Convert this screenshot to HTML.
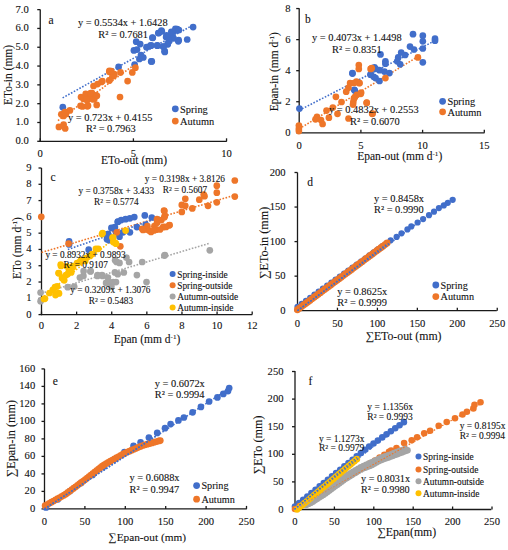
<!DOCTYPE html>
<html><head><meta charset="utf-8"><style>
html,body{margin:0;padding:0;background:#fff;width:508px;height:550px;overflow:hidden}
svg{display:block}
text{font-family:"Liberation Serif", serif;fill:#111;stroke:#111;stroke-width:0.1px}
</style></head><body>
<svg width="508" height="550" viewBox="0 0 508 550">
<rect width="508" height="550" fill="#fff"/>
<line x1="40.25" y1="9.50" x2="40.25" y2="141.90" stroke="#1a1a1a" stroke-width="1.3" />
<line x1="39.65" y1="141.30" x2="226.80" y2="141.30" stroke="#1a1a1a" stroke-width="1.3" />
<line x1="37.25" y1="141.30" x2="40.25" y2="141.30" stroke="#1a1a1a" stroke-width="1.3" />
<text x="28.7" y="144.3" font-size="10.6" text-anchor="end" >0.0</text>
<line x1="37.25" y1="122.49" x2="40.25" y2="122.49" stroke="#1a1a1a" stroke-width="1.3" />
<text x="28.7" y="125.49000000000001" font-size="10.6" text-anchor="end" >1.0</text>
<line x1="37.25" y1="103.68" x2="40.25" y2="103.68" stroke="#1a1a1a" stroke-width="1.3" />
<text x="28.7" y="106.68" font-size="10.6" text-anchor="end" >2.0</text>
<line x1="37.25" y1="84.87" x2="40.25" y2="84.87" stroke="#1a1a1a" stroke-width="1.3" />
<text x="28.7" y="87.87000000000002" font-size="10.6" text-anchor="end" >3.0</text>
<line x1="37.25" y1="66.06" x2="40.25" y2="66.06" stroke="#1a1a1a" stroke-width="1.3" />
<text x="28.7" y="69.06000000000002" font-size="10.6" text-anchor="end" >4.0</text>
<line x1="37.25" y1="47.25" x2="40.25" y2="47.25" stroke="#1a1a1a" stroke-width="1.3" />
<text x="28.7" y="50.250000000000014" font-size="10.6" text-anchor="end" >5.0</text>
<line x1="37.25" y1="28.44" x2="40.25" y2="28.44" stroke="#1a1a1a" stroke-width="1.3" />
<text x="28.7" y="31.440000000000026" font-size="10.6" text-anchor="end" >6.0</text>
<line x1="37.25" y1="9.63" x2="40.25" y2="9.63" stroke="#1a1a1a" stroke-width="1.3" />
<text x="28.7" y="12.630000000000024" font-size="10.6" text-anchor="end" >7.0</text>
<line x1="40.25" y1="141.30" x2="40.25" y2="138.30" stroke="#1a1a1a" stroke-width="1.3" />
<text x="40.25" y="157.3" font-size="10.6" text-anchor="middle" >0</text>
<line x1="133.40" y1="141.30" x2="133.40" y2="138.30" stroke="#1a1a1a" stroke-width="1.3" />
<text x="133.39999999999998" y="157.3" font-size="10.6" text-anchor="middle" >5</text>
<line x1="226.55" y1="141.30" x2="226.55" y2="138.30" stroke="#1a1a1a" stroke-width="1.3" />
<text x="226.54999999999998" y="157.3" font-size="10.6" text-anchor="middle" >10</text>
<text x="12" y="75" font-size="11.5" text-anchor="middle" transform="rotate(-90 12 75)" >ETo-in (mm)</text>
<text x="134" y="163.7" font-size="11.5" text-anchor="middle" >ETo-out (mm)</text>
<text x="48.6" y="24.2" font-size="11.5" text-anchor="start" >a</text>
<line x1="62.61" y1="97.91" x2="193.95" y2="24.52" stroke="#416ECA" stroke-width="1.6" stroke-dasharray="1.6 1.6"/>
<line x1="57.95" y1="120.56" x2="137.13" y2="62.77" stroke="#EE7629" stroke-width="1.6" stroke-dasharray="1.6 1.6"/>
<circle cx="62.80" cy="107.20" r="3.35" fill="#416ECA"/>
<circle cx="118.60" cy="66.90" r="3.35" fill="#416ECA"/>
<circle cx="134.60" cy="64.60" r="3.35" fill="#416ECA"/>
<circle cx="151.20" cy="61.40" r="3.35" fill="#416ECA"/>
<circle cx="141.00" cy="55.10" r="3.35" fill="#416ECA"/>
<circle cx="143.30" cy="57.50" r="3.35" fill="#416ECA"/>
<circle cx="139.40" cy="59.00" r="3.35" fill="#416ECA"/>
<circle cx="133.90" cy="50.40" r="3.35" fill="#416ECA"/>
<circle cx="137.00" cy="49.60" r="3.35" fill="#416ECA"/>
<circle cx="136.20" cy="41.70" r="3.35" fill="#416ECA"/>
<circle cx="140.20" cy="44.10" r="3.35" fill="#416ECA"/>
<circle cx="146.50" cy="47.20" r="3.35" fill="#416ECA"/>
<circle cx="150.40" cy="45.70" r="3.35" fill="#416ECA"/>
<circle cx="157.50" cy="45.70" r="3.35" fill="#416ECA"/>
<circle cx="164.60" cy="51.20" r="3.35" fill="#416ECA"/>
<circle cx="163.00" cy="46.50" r="3.35" fill="#416ECA"/>
<circle cx="152.80" cy="37.80" r="3.35" fill="#416ECA"/>
<circle cx="158.30" cy="33.10" r="3.35" fill="#416ECA"/>
<circle cx="161.40" cy="30.70" r="3.35" fill="#416ECA"/>
<circle cx="166.10" cy="37.00" r="3.35" fill="#416ECA"/>
<circle cx="169.30" cy="40.90" r="3.35" fill="#416ECA"/>
<circle cx="174.00" cy="31.50" r="3.35" fill="#416ECA"/>
<circle cx="177.20" cy="29.10" r="3.35" fill="#416ECA"/>
<circle cx="171.70" cy="36.20" r="3.35" fill="#416ECA"/>
<circle cx="178.70" cy="40.20" r="3.35" fill="#416ECA"/>
<circle cx="167.70" cy="44.10" r="3.35" fill="#416ECA"/>
<circle cx="193.10" cy="27.10" r="3.35" fill="#416ECA"/>
<circle cx="187.20" cy="39.50" r="3.35" fill="#416ECA"/>
<circle cx="178.30" cy="41.30" r="3.35" fill="#416ECA"/>
<circle cx="164.80" cy="51.90" r="3.35" fill="#416ECA"/>
<circle cx="157.10" cy="45.40" r="3.35" fill="#416ECA"/>
<circle cx="151.20" cy="45.40" r="3.35" fill="#416ECA"/>
<circle cx="152.40" cy="37.70" r="3.35" fill="#416ECA"/>
<circle cx="158.90" cy="33.00" r="3.35" fill="#416ECA"/>
<circle cx="161.80" cy="31.30" r="3.35" fill="#416ECA"/>
<circle cx="166.50" cy="35.40" r="3.35" fill="#416ECA"/>
<circle cx="171.30" cy="31.80" r="3.35" fill="#416ECA"/>
<circle cx="175.40" cy="28.90" r="3.35" fill="#416ECA"/>
<circle cx="178.90" cy="30.10" r="3.35" fill="#416ECA"/>
<circle cx="173.60" cy="38.30" r="3.35" fill="#416ECA"/>
<circle cx="168.90" cy="40.70" r="3.35" fill="#416ECA"/>
<circle cx="167.70" cy="44.20" r="3.35" fill="#416ECA"/>
<circle cx="163.60" cy="46.60" r="3.35" fill="#416ECA"/>
<circle cx="151.80" cy="61.40" r="3.35" fill="#416ECA"/>
<circle cx="62.80" cy="114.50" r="3.35" fill="#EE7629"/>
<circle cx="66.00" cy="112.00" r="3.35" fill="#EE7629"/>
<circle cx="69.90" cy="110.40" r="3.35" fill="#EE7629"/>
<circle cx="63.60" cy="115.90" r="3.35" fill="#EE7629"/>
<circle cx="58.90" cy="126.90" r="3.35" fill="#EE7629"/>
<circle cx="65.20" cy="128.50" r="3.35" fill="#EE7629"/>
<circle cx="63.60" cy="124.60" r="3.35" fill="#EE7629"/>
<circle cx="61.30" cy="114.30" r="3.35" fill="#EE7629"/>
<circle cx="81.00" cy="97.00" r="3.35" fill="#EE7629"/>
<circle cx="85.70" cy="93.90" r="3.35" fill="#EE7629"/>
<circle cx="92.00" cy="93.00" r="3.35" fill="#EE7629"/>
<circle cx="95.90" cy="95.40" r="3.35" fill="#EE7629"/>
<circle cx="82.50" cy="106.50" r="3.35" fill="#EE7629"/>
<circle cx="88.00" cy="105.70" r="3.35" fill="#EE7629"/>
<circle cx="96.70" cy="104.90" r="3.35" fill="#EE7629"/>
<circle cx="93.50" cy="98.60" r="3.35" fill="#EE7629"/>
<circle cx="87.20" cy="100.20" r="3.35" fill="#EE7629"/>
<circle cx="93.50" cy="86.00" r="3.35" fill="#EE7629"/>
<circle cx="101.40" cy="82.00" r="3.35" fill="#EE7629"/>
<circle cx="109.30" cy="71.80" r="3.35" fill="#EE7629"/>
<circle cx="112.40" cy="76.50" r="3.35" fill="#EE7629"/>
<circle cx="109.30" cy="80.50" r="3.35" fill="#EE7629"/>
<circle cx="120.00" cy="97.00" r="3.35" fill="#EE7629"/>
<circle cx="135.40" cy="67.70" r="3.35" fill="#EE7629"/>
<circle cx="132.30" cy="72.40" r="3.35" fill="#EE7629"/>
<circle cx="127.60" cy="81.10" r="3.35" fill="#EE7629"/>
<circle cx="120.50" cy="72.40" r="3.35" fill="#EE7629"/>
<circle cx="109.40" cy="70.90" r="3.35" fill="#EE7629"/>
<circle cx="114.20" cy="74.00" r="3.35" fill="#EE7629"/>
<circle cx="109.40" cy="80.30" r="3.35" fill="#EE7629"/>
<circle cx="102.40" cy="81.10" r="3.35" fill="#EE7629"/>
<circle cx="83.50" cy="99.00" r="3.35" fill="#EE7629"/>
<circle cx="89.40" cy="98.00" r="3.35" fill="#EE7629"/>
<circle cx="94.30" cy="99.00" r="3.35" fill="#EE7629"/>
<circle cx="80.50" cy="105.80" r="3.35" fill="#EE7629"/>
<circle cx="87.40" cy="106.30" r="3.35" fill="#EE7629"/>
<circle cx="92.70" cy="99.30" r="3.35" fill="#EE7629"/>
<circle cx="86.50" cy="99.30" r="3.35" fill="#EE7629"/>
<circle cx="90.70" cy="93.10" r="3.35" fill="#EE7629"/>
<circle cx="96.90" cy="95.80" r="3.35" fill="#EE7629"/>
<circle cx="97.50" cy="84.10" r="3.35" fill="#EE7629"/>
<circle cx="114.10" cy="75.20" r="3.35" fill="#EE7629"/>
<circle cx="111.30" cy="71.00" r="3.35" fill="#EE7629"/>
<circle cx="66.00" cy="114.00" r="3.35" fill="#EE7629"/>
<circle cx="64.80" cy="112.20" r="3.35" fill="#EE7629"/>
<text x="78" y="26.4" font-size="10.4" text-anchor="start" >y = 0.5534x + 1.6428</text>
<text x="98.3" y="38.0" font-size="10.4" text-anchor="start" >R² = 0.7681</text>
<text x="68" y="121.2" font-size="10.4" text-anchor="start" >y = 0.723x + 0.4155</text>
<text x="86" y="132.4" font-size="10.4" text-anchor="start" >R² = 0.7963</text>
<circle cx="175.30" cy="108.80" r="3.4" fill="#416ECA"/>
<text x="180.10000000000002" y="112.6" font-size="10.4" text-anchor="start" >Spring</text>
<circle cx="175.30" cy="121.10" r="3.4" fill="#EE7629"/>
<text x="180.10000000000002" y="124.89999999999999" font-size="10.4" text-anchor="start" >Autumn</text>
<line x1="299.20" y1="8.20" x2="299.20" y2="133.40" stroke="#1a1a1a" stroke-width="1.3" />
<line x1="298.60" y1="132.80" x2="484.50" y2="132.80" stroke="#1a1a1a" stroke-width="1.3" />
<line x1="296.20" y1="132.80" x2="299.20" y2="132.80" stroke="#1a1a1a" stroke-width="1.3" />
<text x="290.5" y="135.8" font-size="10.6" text-anchor="end" >0</text>
<line x1="296.20" y1="101.74" x2="299.20" y2="101.74" stroke="#1a1a1a" stroke-width="1.3" />
<text x="290.5" y="104.74000000000001" font-size="10.6" text-anchor="end" >2</text>
<line x1="296.20" y1="70.68" x2="299.20" y2="70.68" stroke="#1a1a1a" stroke-width="1.3" />
<text x="290.5" y="73.68" font-size="10.6" text-anchor="end" >4</text>
<line x1="296.20" y1="39.62" x2="299.20" y2="39.62" stroke="#1a1a1a" stroke-width="1.3" />
<text x="290.5" y="42.62000000000002" font-size="10.6" text-anchor="end" >6</text>
<line x1="296.20" y1="8.56" x2="299.20" y2="8.56" stroke="#1a1a1a" stroke-width="1.3" />
<text x="290.5" y="11.560000000000016" font-size="10.6" text-anchor="end" >8</text>
<line x1="299.20" y1="132.80" x2="299.20" y2="129.80" stroke="#1a1a1a" stroke-width="1.3" />
<text x="299.2" y="149" font-size="10.6" text-anchor="middle" >0</text>
<line x1="360.90" y1="132.80" x2="360.90" y2="129.80" stroke="#1a1a1a" stroke-width="1.3" />
<text x="360.9" y="149" font-size="10.6" text-anchor="middle" >5</text>
<line x1="422.60" y1="132.80" x2="422.60" y2="129.80" stroke="#1a1a1a" stroke-width="1.3" />
<text x="422.6" y="149" font-size="10.6" text-anchor="middle" >10</text>
<line x1="484.30" y1="132.80" x2="484.30" y2="129.80" stroke="#1a1a1a" stroke-width="1.3" />
<text x="484.3" y="149" font-size="10.6" text-anchor="middle" >15</text>
<text x="278.5" y="71.7" font-size="11.5" text-anchor="middle" transform="rotate(-90 278.5 71.7)" >Epan-in (mm d<tspan font-size="7" dy="-4">-1</tspan><tspan dy="4">)</tspan></text>
<text x="399.7" y="160" font-size="11.5" text-anchor="middle" >Epan-out (mm d<tspan font-size="7" dy="-4">-1</tspan><tspan dy="4">)</tspan></text>
<text x="305.0" y="23.4" font-size="11.5" text-anchor="start" >b</text>
<line x1="299.20" y1="110.28" x2="434.94" y2="40.71" stroke="#416ECA" stroke-width="1.6" stroke-dasharray="1.6 1.6"/>
<line x1="299.20" y1="128.84" x2="420.13" y2="55.30" stroke="#EE7629" stroke-width="1.6" stroke-dasharray="1.6 1.6"/>
<circle cx="299.40" cy="108.60" r="3.35" fill="#416ECA"/>
<circle cx="352.50" cy="73.60" r="3.35" fill="#416ECA"/>
<circle cx="354.80" cy="90.60" r="3.35" fill="#416ECA"/>
<circle cx="370.60" cy="74.40" r="3.35" fill="#416ECA"/>
<circle cx="373.70" cy="76.80" r="3.35" fill="#416ECA"/>
<circle cx="374.50" cy="67.30" r="3.35" fill="#416ECA"/>
<circle cx="413.00" cy="34.20" r="3.35" fill="#416ECA"/>
<circle cx="422.80" cy="35.70" r="3.35" fill="#416ECA"/>
<circle cx="422.80" cy="41.30" r="3.35" fill="#416ECA"/>
<circle cx="422.80" cy="48.50" r="3.35" fill="#416ECA"/>
<circle cx="435.00" cy="38.70" r="3.35" fill="#416ECA"/>
<circle cx="435.00" cy="40.70" r="3.35" fill="#416ECA"/>
<circle cx="410.00" cy="46.60" r="3.35" fill="#416ECA"/>
<circle cx="414.00" cy="49.50" r="3.35" fill="#416ECA"/>
<circle cx="401.20" cy="52.50" r="3.35" fill="#416ECA"/>
<circle cx="405.10" cy="55.00" r="3.35" fill="#416ECA"/>
<circle cx="398.20" cy="57.40" r="3.35" fill="#416ECA"/>
<circle cx="397.20" cy="61.30" r="3.35" fill="#416ECA"/>
<circle cx="400.20" cy="64.30" r="3.35" fill="#416ECA"/>
<circle cx="422.80" cy="62.30" r="3.35" fill="#416ECA"/>
<circle cx="380.50" cy="54.40" r="3.35" fill="#416ECA"/>
<circle cx="385.40" cy="61.30" r="3.35" fill="#416ECA"/>
<circle cx="385.40" cy="63.70" r="3.35" fill="#416ECA"/>
<circle cx="375.60" cy="68.80" r="3.35" fill="#416ECA"/>
<circle cx="379.50" cy="70.20" r="3.35" fill="#416ECA"/>
<circle cx="384.40" cy="71.60" r="3.35" fill="#416ECA"/>
<circle cx="389.40" cy="73.10" r="3.35" fill="#416ECA"/>
<circle cx="370.70" cy="74.70" r="3.35" fill="#416ECA"/>
<circle cx="375.60" cy="78.10" r="3.35" fill="#416ECA"/>
<circle cx="379.50" cy="81.00" r="3.35" fill="#416ECA"/>
<circle cx="352.40" cy="73.10" r="3.35" fill="#416ECA"/>
<circle cx="354.30" cy="89.90" r="3.35" fill="#416ECA"/>
<circle cx="298.90" cy="125.60" r="3.35" fill="#EE7629"/>
<circle cx="298.90" cy="128.70" r="3.35" fill="#EE7629"/>
<circle cx="298.90" cy="131.10" r="3.35" fill="#EE7629"/>
<circle cx="317.00" cy="116.90" r="3.35" fill="#EE7629"/>
<circle cx="321.00" cy="120.10" r="3.35" fill="#EE7629"/>
<circle cx="322.60" cy="124.00" r="3.35" fill="#EE7629"/>
<circle cx="315.50" cy="119.30" r="3.35" fill="#EE7629"/>
<circle cx="326.50" cy="110.60" r="3.35" fill="#EE7629"/>
<circle cx="328.90" cy="117.70" r="3.35" fill="#EE7629"/>
<circle cx="332.80" cy="107.50" r="3.35" fill="#EE7629"/>
<circle cx="337.50" cy="113.80" r="3.35" fill="#EE7629"/>
<circle cx="341.50" cy="102.00" r="3.35" fill="#EE7629"/>
<circle cx="335.90" cy="96.80" r="3.35" fill="#EE7629"/>
<circle cx="348.50" cy="118.50" r="3.35" fill="#EE7629"/>
<circle cx="346.20" cy="91.70" r="3.35" fill="#EE7629"/>
<circle cx="348.50" cy="87.80" r="3.35" fill="#EE7629"/>
<circle cx="350.10" cy="83.10" r="3.35" fill="#EE7629"/>
<circle cx="356.40" cy="81.50" r="3.35" fill="#EE7629"/>
<circle cx="359.60" cy="83.10" r="3.35" fill="#EE7629"/>
<circle cx="354.80" cy="97.20" r="3.35" fill="#EE7629"/>
<circle cx="353.30" cy="102.00" r="3.35" fill="#EE7629"/>
<circle cx="361.10" cy="92.50" r="3.35" fill="#EE7629"/>
<circle cx="358.80" cy="65.00" r="3.35" fill="#EE7629"/>
<circle cx="358.80" cy="68.90" r="3.35" fill="#EE7629"/>
<circle cx="370.60" cy="68.90" r="3.35" fill="#EE7629"/>
<circle cx="366.70" cy="102.80" r="3.35" fill="#EE7629"/>
<circle cx="372.20" cy="113.80" r="3.35" fill="#EE7629"/>
<circle cx="417.90" cy="57.40" r="3.35" fill="#EE7629"/>
<circle cx="385.40" cy="78.10" r="3.35" fill="#EE7629"/>
<circle cx="371.70" cy="68.20" r="3.35" fill="#EE7629"/>
<circle cx="358.90" cy="83.00" r="3.35" fill="#EE7629"/>
<circle cx="353.90" cy="83.00" r="3.35" fill="#EE7629"/>
<circle cx="360.80" cy="93.80" r="3.35" fill="#EE7629"/>
<circle cx="356.90" cy="94.80" r="3.35" fill="#EE7629"/>
<circle cx="353.90" cy="98.70" r="3.35" fill="#EE7629"/>
<circle cx="353.00" cy="104.60" r="3.35" fill="#EE7629"/>
<circle cx="366.70" cy="102.70" r="3.35" fill="#EE7629"/>
<circle cx="372.60" cy="113.50" r="3.35" fill="#EE7629"/>
<text x="312" y="40.8" font-size="10.4" text-anchor="start" >y = 0.4073x + 1.4498</text>
<text x="332" y="52.5" font-size="10.4" text-anchor="start" >R² = 0.8351</text>
<text x="329" y="112.5" font-size="10.4" text-anchor="start" >y = 0.4832x + 0.2553</text>
<text x="350" y="124.5" font-size="10.4" text-anchor="start" >R² = 0.6070</text>
<circle cx="442.60" cy="101.30" r="3.4" fill="#416ECA"/>
<text x="447.40000000000003" y="105.1" font-size="10.4" text-anchor="start" >Spring</text>
<circle cx="442.60" cy="111.80" r="3.4" fill="#EE7629"/>
<text x="447.40000000000003" y="115.6" font-size="10.4" text-anchor="start" >Autumn</text>
<line x1="41.50" y1="168.00" x2="41.50" y2="315.20" stroke="#1a1a1a" stroke-width="1.3" />
<line x1="40.90" y1="314.60" x2="252.30" y2="314.60" stroke="#1a1a1a" stroke-width="1.3" />
<line x1="38.50" y1="314.60" x2="41.50" y2="314.60" stroke="#1a1a1a" stroke-width="1.3" />
<text x="31.5" y="317.6" font-size="10.6" text-anchor="end" >0</text>
<line x1="38.50" y1="298.31" x2="41.50" y2="298.31" stroke="#1a1a1a" stroke-width="1.3" />
<text x="31.5" y="301.31111111111113" font-size="10.6" text-anchor="end" >1</text>
<line x1="38.50" y1="282.02" x2="41.50" y2="282.02" stroke="#1a1a1a" stroke-width="1.3" />
<text x="31.5" y="285.02222222222224" font-size="10.6" text-anchor="end" >2</text>
<line x1="38.50" y1="265.73" x2="41.50" y2="265.73" stroke="#1a1a1a" stroke-width="1.3" />
<text x="31.5" y="268.73333333333335" font-size="10.6" text-anchor="end" >3</text>
<line x1="38.50" y1="249.44" x2="41.50" y2="249.44" stroke="#1a1a1a" stroke-width="1.3" />
<text x="31.5" y="252.44444444444446" font-size="10.6" text-anchor="end" >4</text>
<line x1="38.50" y1="233.16" x2="41.50" y2="233.16" stroke="#1a1a1a" stroke-width="1.3" />
<text x="31.5" y="236.15555555555557" font-size="10.6" text-anchor="end" >5</text>
<line x1="38.50" y1="216.87" x2="41.50" y2="216.87" stroke="#1a1a1a" stroke-width="1.3" />
<text x="31.5" y="219.86666666666667" font-size="10.6" text-anchor="end" >6</text>
<line x1="38.50" y1="200.58" x2="41.50" y2="200.58" stroke="#1a1a1a" stroke-width="1.3" />
<text x="31.5" y="203.57777777777778" font-size="10.6" text-anchor="end" >7</text>
<line x1="38.50" y1="184.29" x2="41.50" y2="184.29" stroke="#1a1a1a" stroke-width="1.3" />
<text x="31.5" y="187.2888888888889" font-size="10.6" text-anchor="end" >8</text>
<line x1="38.50" y1="168.00" x2="41.50" y2="168.00" stroke="#1a1a1a" stroke-width="1.3" />
<text x="31.5" y="171.0" font-size="10.6" text-anchor="end" >9</text>
<line x1="41.50" y1="314.60" x2="41.50" y2="311.60" stroke="#1a1a1a" stroke-width="1.3" />
<text x="41.5" y="329" font-size="10.6" text-anchor="middle" >0</text>
<line x1="76.62" y1="314.60" x2="76.62" y2="311.60" stroke="#1a1a1a" stroke-width="1.3" />
<text x="76.61666666666667" y="329" font-size="10.6" text-anchor="middle" >2</text>
<line x1="111.73" y1="314.60" x2="111.73" y2="311.60" stroke="#1a1a1a" stroke-width="1.3" />
<text x="111.73333333333333" y="329" font-size="10.6" text-anchor="middle" >4</text>
<line x1="146.85" y1="314.60" x2="146.85" y2="311.60" stroke="#1a1a1a" stroke-width="1.3" />
<text x="146.85" y="329" font-size="10.6" text-anchor="middle" >6</text>
<line x1="181.97" y1="314.60" x2="181.97" y2="311.60" stroke="#1a1a1a" stroke-width="1.3" />
<text x="181.96666666666667" y="329" font-size="10.6" text-anchor="middle" >8</text>
<line x1="217.08" y1="314.60" x2="217.08" y2="311.60" stroke="#1a1a1a" stroke-width="1.3" />
<text x="217.08333333333334" y="329" font-size="10.6" text-anchor="middle" >10</text>
<line x1="252.20" y1="314.60" x2="252.20" y2="311.60" stroke="#1a1a1a" stroke-width="1.3" />
<text x="252.2" y="329" font-size="10.6" text-anchor="middle" >12</text>
<text x="21" y="248.1" font-size="11.5" text-anchor="middle" transform="rotate(-90 21 248.1)" >ETo (mm d<tspan font-size="7" dy="-4">-1</tspan><tspan dy="4">)</tspan></text>
<text x="147" y="343.4" font-size="11.5" text-anchor="middle" >Epan (mm d<tspan font-size="7" dy="-4">-1</tspan><tspan dy="4">)</tspan></text>
<text x="50.5" y="181.3" font-size="11.5" text-anchor="start" >c</text>
<line x1="41.50" y1="252.50" x2="234.64" y2="195.20" stroke="#EE7629" stroke-width="1.6" stroke-dasharray="1.6 1.6"/>
<line x1="67.84" y1="249.50" x2="160.90" y2="217.05" stroke="#416ECA" stroke-width="1.6" stroke-dasharray="1.6 1.6"/>
<line x1="41.50" y1="293.30" x2="210.06" y2="243.12" stroke="#A5A5A5" stroke-width="1.6" stroke-dasharray="1.6 1.6"/>
<line x1="41.50" y1="298.49" x2="117.00" y2="235.92" stroke="#FFC000" stroke-width="1.6" stroke-dasharray="1.6 1.6"/>
<circle cx="69.10" cy="241.30" r="3.35" fill="#416ECA"/>
<circle cx="69.10" cy="244.50" r="3.35" fill="#416ECA"/>
<circle cx="88.70" cy="249.70" r="3.35" fill="#416ECA"/>
<circle cx="111.40" cy="227.90" r="3.35" fill="#416ECA"/>
<circle cx="114.90" cy="227.00" r="3.35" fill="#416ECA"/>
<circle cx="107.90" cy="234.00" r="3.35" fill="#416ECA"/>
<circle cx="107.00" cy="239.20" r="3.35" fill="#416ECA"/>
<circle cx="118.00" cy="221.70" r="3.35" fill="#416ECA"/>
<circle cx="117.70" cy="221.80" r="3.35" fill="#416ECA"/>
<circle cx="121.20" cy="220.10" r="3.35" fill="#416ECA"/>
<circle cx="125.60" cy="219.20" r="3.35" fill="#416ECA"/>
<circle cx="129.90" cy="218.30" r="3.35" fill="#416ECA"/>
<circle cx="134.30" cy="217.10" r="3.35" fill="#416ECA"/>
<circle cx="144.80" cy="215.40" r="3.35" fill="#416ECA"/>
<circle cx="151.80" cy="217.50" r="3.35" fill="#416ECA"/>
<circle cx="112.50" cy="228.00" r="3.35" fill="#416ECA"/>
<circle cx="116.00" cy="232.30" r="3.35" fill="#416ECA"/>
<circle cx="123.00" cy="232.30" r="3.35" fill="#416ECA"/>
<circle cx="129.90" cy="232.30" r="3.35" fill="#416ECA"/>
<circle cx="136.90" cy="227.10" r="3.35" fill="#416ECA"/>
<circle cx="145.70" cy="224.50" r="3.35" fill="#416ECA"/>
<circle cx="108.10" cy="234.10" r="3.35" fill="#416ECA"/>
<circle cx="109.00" cy="240.20" r="3.35" fill="#416ECA"/>
<circle cx="119.50" cy="236.70" r="3.35" fill="#416ECA"/>
<circle cx="106.40" cy="234.90" r="3.35" fill="#416ECA"/>
<circle cx="41.30" cy="216.80" r="3.35" fill="#EE7629"/>
<circle cx="68.60" cy="243.60" r="3.35" fill="#EE7629"/>
<circle cx="116.80" cy="232.30" r="3.35" fill="#EE7629"/>
<circle cx="120.30" cy="246.30" r="3.35" fill="#EE7629"/>
<circle cx="142.20" cy="228.80" r="3.35" fill="#EE7629"/>
<circle cx="147.40" cy="226.20" r="3.35" fill="#EE7629"/>
<circle cx="149.10" cy="230.60" r="3.35" fill="#EE7629"/>
<circle cx="154.40" cy="226.20" r="3.35" fill="#EE7629"/>
<circle cx="156.10" cy="229.70" r="3.35" fill="#EE7629"/>
<circle cx="157.00" cy="219.20" r="3.35" fill="#EE7629"/>
<circle cx="157.00" cy="222.70" r="3.35" fill="#EE7629"/>
<circle cx="164.00" cy="210.50" r="3.35" fill="#EE7629"/>
<circle cx="164.90" cy="215.70" r="3.35" fill="#EE7629"/>
<circle cx="163.10" cy="227.10" r="3.35" fill="#EE7629"/>
<circle cx="169.20" cy="225.30" r="3.35" fill="#EE7629"/>
<circle cx="161.40" cy="220.10" r="3.35" fill="#EE7629"/>
<circle cx="234.80" cy="180.50" r="3.35" fill="#EE7629"/>
<circle cx="234.80" cy="196.60" r="3.35" fill="#EE7629"/>
<circle cx="216.80" cy="185.70" r="3.35" fill="#EE7629"/>
<circle cx="216.80" cy="192.70" r="3.35" fill="#EE7629"/>
<circle cx="216.80" cy="202.30" r="3.35" fill="#EE7629"/>
<circle cx="208.00" cy="205.80" r="3.35" fill="#EE7629"/>
<circle cx="203.70" cy="194.50" r="3.35" fill="#EE7629"/>
<circle cx="204.50" cy="196.20" r="3.35" fill="#EE7629"/>
<circle cx="199.30" cy="199.70" r="3.35" fill="#EE7629"/>
<circle cx="185.30" cy="198.80" r="3.35" fill="#EE7629"/>
<circle cx="181.80" cy="204.90" r="3.35" fill="#EE7629"/>
<circle cx="185.30" cy="205.80" r="3.35" fill="#EE7629"/>
<circle cx="192.30" cy="208.40" r="3.35" fill="#EE7629"/>
<circle cx="181.80" cy="211.90" r="3.35" fill="#EE7629"/>
<circle cx="164.40" cy="211.00" r="3.35" fill="#EE7629"/>
<circle cx="164.40" cy="217.20" r="3.35" fill="#EE7629"/>
<circle cx="164.40" cy="226.80" r="3.35" fill="#EE7629"/>
<circle cx="169.60" cy="225.00" r="3.35" fill="#EE7629"/>
<circle cx="146.00" cy="229.50" r="3.35" fill="#EE7629"/>
<circle cx="151.00" cy="232.00" r="3.35" fill="#EE7629"/>
<circle cx="154.00" cy="230.50" r="3.35" fill="#EE7629"/>
<circle cx="160.00" cy="229.50" r="3.35" fill="#EE7629"/>
<circle cx="166.00" cy="227.00" r="3.35" fill="#EE7629"/>
<circle cx="143.00" cy="230.00" r="3.35" fill="#EE7629"/>
<circle cx="40.60" cy="292.50" r="3.35" fill="#A5A5A5"/>
<circle cx="40.60" cy="301.20" r="3.35" fill="#A5A5A5"/>
<circle cx="67.70" cy="287.20" r="3.35" fill="#A5A5A5"/>
<circle cx="79.90" cy="277.60" r="3.35" fill="#A5A5A5"/>
<circle cx="83.40" cy="275.90" r="3.35" fill="#A5A5A5"/>
<circle cx="90.40" cy="271.50" r="3.35" fill="#A5A5A5"/>
<circle cx="97.40" cy="275.90" r="3.35" fill="#A5A5A5"/>
<circle cx="102.60" cy="275.90" r="3.35" fill="#A5A5A5"/>
<circle cx="107.90" cy="277.60" r="3.35" fill="#A5A5A5"/>
<circle cx="106.10" cy="282.90" r="3.35" fill="#A5A5A5"/>
<circle cx="113.10" cy="282.00" r="3.35" fill="#A5A5A5"/>
<circle cx="111.40" cy="286.40" r="3.35" fill="#A5A5A5"/>
<circle cx="114.90" cy="272.40" r="3.35" fill="#A5A5A5"/>
<circle cx="116.60" cy="261.90" r="3.35" fill="#A5A5A5"/>
<circle cx="164.90" cy="255.00" r="3.35" fill="#A5A5A5"/>
<circle cx="142.20" cy="262.00" r="3.35" fill="#A5A5A5"/>
<circle cx="129.10" cy="262.00" r="3.35" fill="#A5A5A5"/>
<circle cx="119.50" cy="262.90" r="3.35" fill="#A5A5A5"/>
<circle cx="115.10" cy="260.30" r="3.35" fill="#A5A5A5"/>
<circle cx="123.80" cy="272.50" r="3.35" fill="#A5A5A5"/>
<circle cx="136.90" cy="275.10" r="3.35" fill="#A5A5A5"/>
<circle cx="117.70" cy="274.20" r="3.35" fill="#A5A5A5"/>
<circle cx="102.00" cy="275.10" r="3.35" fill="#A5A5A5"/>
<circle cx="97.60" cy="275.10" r="3.35" fill="#A5A5A5"/>
<circle cx="109.00" cy="282.10" r="3.35" fill="#A5A5A5"/>
<circle cx="116.00" cy="282.10" r="3.35" fill="#A5A5A5"/>
<circle cx="146.50" cy="282.10" r="3.35" fill="#A5A5A5"/>
<circle cx="126.40" cy="257.60" r="3.35" fill="#A5A5A5"/>
<circle cx="209.80" cy="250.30" r="3.35" fill="#A5A5A5"/>
<circle cx="164.40" cy="255.60" r="3.35" fill="#A5A5A5"/>
<circle cx="83.60" cy="271.10" r="3.35" fill="#A5A5A5"/>
<circle cx="90.70" cy="271.10" r="3.35" fill="#A5A5A5"/>
<circle cx="74.20" cy="286.50" r="3.35" fill="#A5A5A5"/>
<circle cx="45.00" cy="298.60" r="3.35" fill="#FFC000"/>
<circle cx="52.80" cy="289.90" r="3.35" fill="#FFC000"/>
<circle cx="57.20" cy="286.40" r="3.35" fill="#FFC000"/>
<circle cx="59.00" cy="293.40" r="3.35" fill="#FFC000"/>
<circle cx="55.50" cy="295.10" r="3.35" fill="#FFC000"/>
<circle cx="59.00" cy="273.30" r="3.35" fill="#FFC000"/>
<circle cx="62.50" cy="277.60" r="3.35" fill="#FFC000"/>
<circle cx="64.20" cy="280.30" r="3.35" fill="#FFC000"/>
<circle cx="67.70" cy="274.10" r="3.35" fill="#FFC000"/>
<circle cx="71.20" cy="272.40" r="3.35" fill="#FFC000"/>
<circle cx="72.90" cy="267.20" r="3.35" fill="#FFC000"/>
<circle cx="60.70" cy="264.50" r="3.35" fill="#FFC000"/>
<circle cx="66.80" cy="266.30" r="3.35" fill="#FFC000"/>
<circle cx="79.90" cy="261.90" r="3.35" fill="#FFC000"/>
<circle cx="85.20" cy="261.00" r="3.35" fill="#FFC000"/>
<circle cx="92.10" cy="254.10" r="3.35" fill="#FFC000"/>
<circle cx="98.30" cy="248.80" r="3.35" fill="#FFC000"/>
<circle cx="102.60" cy="233.10" r="3.35" fill="#FFC000"/>
<circle cx="113.10" cy="237.50" r="3.35" fill="#FFC000"/>
<circle cx="114.90" cy="242.70" r="3.35" fill="#FFC000"/>
<circle cx="102.00" cy="234.10" r="3.35" fill="#FFC000"/>
<circle cx="112.50" cy="237.60" r="3.35" fill="#FFC000"/>
<circle cx="113.30" cy="241.90" r="3.35" fill="#FFC000"/>
<circle cx="116.00" cy="243.70" r="3.35" fill="#FFC000"/>
<circle cx="125.60" cy="230.60" r="3.35" fill="#FFC000"/>
<circle cx="95.90" cy="248.90" r="3.35" fill="#FFC000"/>
<circle cx="61.00" cy="266.00" r="3.35" fill="#FFC000"/>
<circle cx="58.50" cy="273.00" r="3.35" fill="#FFC000"/>
<circle cx="62.00" cy="278.00" r="3.35" fill="#FFC000"/>
<circle cx="66.00" cy="275.00" r="3.35" fill="#FFC000"/>
<circle cx="69.00" cy="271.00" r="3.35" fill="#FFC000"/>
<circle cx="73.00" cy="266.00" r="3.35" fill="#FFC000"/>
<circle cx="77.00" cy="263.00" r="3.35" fill="#FFC000"/>
<circle cx="81.00" cy="260.00" r="3.35" fill="#FFC000"/>
<circle cx="86.00" cy="258.00" r="3.35" fill="#FFC000"/>
<circle cx="90.00" cy="256.00" r="3.35" fill="#FFC000"/>
<circle cx="55.00" cy="287.00" r="3.35" fill="#FFC000"/>
<circle cx="49.50" cy="293.00" r="3.35" fill="#FFC000"/>
<circle cx="44.00" cy="299.00" r="3.35" fill="#FFC000"/>
<circle cx="58.00" cy="293.00" r="3.35" fill="#FFC000"/>
<text x="78.5" y="193.8" font-size="9.3" text-anchor="start" >y = 0.3758x + 3.433</text>
<text x="94.1" y="204.6" font-size="9.3" text-anchor="start" >R² = 0.5774</text>
<text x="144.8" y="181.9" font-size="9.3" text-anchor="start" >y = 0.3198x + 3.8126</text>
<text x="162.7" y="192.7" font-size="9.3" text-anchor="start" >R² = 0.5607</text>
<text x="45.4" y="257.6" font-size="9.3" text-anchor="start" >y = 0.8932x + 0.9893</text>
<text x="63.4" y="268.4" font-size="9.3" text-anchor="start" >R² = 0.9107</text>
<text x="70.3" y="293.1" font-size="9.3" text-anchor="start" >y = 0.3209x + 1.3076</text>
<text x="88.7" y="303.5" font-size="9.3" text-anchor="start" >R² = 0.5483</text>
<circle cx="172.60" cy="274.00" r="3.0" fill="#416ECA"/>
<text x="177.2" y="277.8" font-size="9.4" text-anchor="start" >Spring-inside</text>
<circle cx="172.60" cy="285.20" r="3.0" fill="#EE7629"/>
<text x="177.2" y="289.0" font-size="9.4" text-anchor="start" >Spring-outside</text>
<circle cx="172.60" cy="296.40" r="3.0" fill="#A5A5A5"/>
<text x="177.2" y="300.2" font-size="9.4" text-anchor="start" >Autumn-outside</text>
<circle cx="172.60" cy="307.60" r="3.0" fill="#FFC000"/>
<text x="177.2" y="311.40000000000003" font-size="9.4" text-anchor="start" >Autumn-inside</text>
<line x1="297.50" y1="172.50" x2="297.50" y2="311.30" stroke="#1a1a1a" stroke-width="1.3" />
<line x1="296.90" y1="310.70" x2="496.80" y2="310.70" stroke="#1a1a1a" stroke-width="1.3" />
<line x1="294.50" y1="310.70" x2="297.50" y2="310.70" stroke="#1a1a1a" stroke-width="1.3" />
<text x="285.6" y="313.7" font-size="10.6" text-anchor="end" >0</text>
<line x1="294.50" y1="276.15" x2="297.50" y2="276.15" stroke="#1a1a1a" stroke-width="1.3" />
<text x="285.6" y="279.15" font-size="10.6" text-anchor="end" >50</text>
<line x1="294.50" y1="241.60" x2="297.50" y2="241.60" stroke="#1a1a1a" stroke-width="1.3" />
<text x="285.6" y="244.6" font-size="10.6" text-anchor="end" >100</text>
<line x1="294.50" y1="207.05" x2="297.50" y2="207.05" stroke="#1a1a1a" stroke-width="1.3" />
<text x="285.6" y="210.05" font-size="10.6" text-anchor="end" >150</text>
<line x1="294.50" y1="172.50" x2="297.50" y2="172.50" stroke="#1a1a1a" stroke-width="1.3" />
<text x="285.6" y="175.5" font-size="10.6" text-anchor="end" >200</text>
<line x1="297.50" y1="310.70" x2="297.50" y2="307.70" stroke="#1a1a1a" stroke-width="1.3" />
<text x="297.5" y="326.5" font-size="10.6" text-anchor="middle" >0</text>
<line x1="337.45" y1="310.70" x2="337.45" y2="307.70" stroke="#1a1a1a" stroke-width="1.3" />
<text x="337.45" y="326.5" font-size="10.6" text-anchor="middle" >50</text>
<line x1="377.40" y1="310.70" x2="377.40" y2="307.70" stroke="#1a1a1a" stroke-width="1.3" />
<text x="377.4" y="326.5" font-size="10.6" text-anchor="middle" >100</text>
<line x1="417.35" y1="310.70" x2="417.35" y2="307.70" stroke="#1a1a1a" stroke-width="1.3" />
<text x="417.35" y="326.5" font-size="10.6" text-anchor="middle" >150</text>
<line x1="457.30" y1="310.70" x2="457.30" y2="307.70" stroke="#1a1a1a" stroke-width="1.3" />
<text x="457.3" y="326.5" font-size="10.6" text-anchor="middle" >200</text>
<line x1="497.25" y1="310.70" x2="497.25" y2="307.70" stroke="#1a1a1a" stroke-width="1.3" />
<text x="497.25" y="326.5" font-size="10.6" text-anchor="middle" >250</text>
<text x="268" y="243" font-size="12.2" text-anchor="middle" transform="rotate(-90 268 243)" >∑ETo-in (mm)</text>
<text x="403.5" y="340" font-size="11.8" text-anchor="middle" >∑ETo-out (mm)</text>
<text x="307.2" y="185.6" font-size="11.5" text-anchor="start" >d</text>
<circle cx="297.50" cy="306.80" r="3.1" fill="#416ECA"/>
<circle cx="301.73" cy="303.78" r="3.1" fill="#416ECA"/>
<circle cx="305.97" cy="300.76" r="3.1" fill="#416ECA"/>
<circle cx="310.20" cy="297.74" r="3.1" fill="#416ECA"/>
<circle cx="314.43" cy="294.72" r="3.1" fill="#416ECA"/>
<circle cx="318.67" cy="291.70" r="3.1" fill="#416ECA"/>
<circle cx="322.90" cy="288.68" r="3.1" fill="#416ECA"/>
<circle cx="327.13" cy="285.66" r="3.1" fill="#416ECA"/>
<circle cx="331.37" cy="282.64" r="3.1" fill="#416ECA"/>
<circle cx="335.60" cy="279.62" r="3.1" fill="#416ECA"/>
<circle cx="339.83" cy="276.60" r="3.1" fill="#416ECA"/>
<circle cx="344.07" cy="273.58" r="3.1" fill="#416ECA"/>
<circle cx="348.30" cy="270.56" r="3.1" fill="#416ECA"/>
<circle cx="352.53" cy="267.54" r="3.1" fill="#416ECA"/>
<circle cx="356.77" cy="264.52" r="3.1" fill="#416ECA"/>
<circle cx="361.00" cy="261.50" r="3.1" fill="#416ECA"/>
<circle cx="365.23" cy="258.48" r="3.1" fill="#416ECA"/>
<circle cx="369.46" cy="255.46" r="3.1" fill="#416ECA"/>
<circle cx="373.70" cy="252.44" r="3.1" fill="#416ECA"/>
<circle cx="377.93" cy="249.42" r="3.1" fill="#416ECA"/>
<circle cx="382.16" cy="246.40" r="3.1" fill="#416ECA"/>
<circle cx="386.40" cy="243.38" r="3.1" fill="#416ECA"/>
<circle cx="390.63" cy="240.36" r="3.1" fill="#416ECA"/>
<circle cx="396.60" cy="236.90" r="3.1" fill="#416ECA"/>
<circle cx="401.50" cy="233.30" r="3.1" fill="#416ECA"/>
<circle cx="407.40" cy="229.40" r="3.1" fill="#416ECA"/>
<circle cx="411.30" cy="226.40" r="3.1" fill="#416ECA"/>
<circle cx="417.60" cy="222.50" r="3.1" fill="#416ECA"/>
<circle cx="423.10" cy="219.10" r="3.1" fill="#416ECA"/>
<circle cx="429.00" cy="215.20" r="3.1" fill="#416ECA"/>
<circle cx="434.00" cy="211.70" r="3.1" fill="#416ECA"/>
<circle cx="438.90" cy="208.10" r="3.1" fill="#416ECA"/>
<circle cx="443.80" cy="205.40" r="3.1" fill="#416ECA"/>
<circle cx="447.80" cy="202.80" r="3.1" fill="#416ECA"/>
<circle cx="452.70" cy="199.80" r="3.1" fill="#416ECA"/>
<circle cx="297.40" cy="309.70" r="3.45" fill="#EE7629"/>
<circle cx="299.49" cy="308.15" r="3.45" fill="#EE7629"/>
<circle cx="301.57" cy="306.60" r="3.45" fill="#EE7629"/>
<circle cx="303.66" cy="305.05" r="3.45" fill="#EE7629"/>
<circle cx="305.75" cy="303.50" r="3.45" fill="#EE7629"/>
<circle cx="307.84" cy="301.95" r="3.45" fill="#EE7629"/>
<circle cx="309.92" cy="300.40" r="3.45" fill="#EE7629"/>
<circle cx="312.01" cy="298.85" r="3.45" fill="#EE7629"/>
<circle cx="314.10" cy="297.30" r="3.45" fill="#EE7629"/>
<circle cx="316.19" cy="295.75" r="3.45" fill="#EE7629"/>
<circle cx="318.27" cy="294.20" r="3.45" fill="#EE7629"/>
<circle cx="320.36" cy="292.65" r="3.45" fill="#EE7629"/>
<circle cx="322.45" cy="291.10" r="3.45" fill="#EE7629"/>
<circle cx="324.54" cy="289.55" r="3.45" fill="#EE7629"/>
<circle cx="326.62" cy="288.00" r="3.45" fill="#EE7629"/>
<circle cx="328.71" cy="286.45" r="3.45" fill="#EE7629"/>
<circle cx="330.80" cy="284.90" r="3.45" fill="#EE7629"/>
<circle cx="332.89" cy="283.35" r="3.45" fill="#EE7629"/>
<circle cx="334.97" cy="281.80" r="3.45" fill="#EE7629"/>
<circle cx="337.06" cy="280.25" r="3.45" fill="#EE7629"/>
<circle cx="339.15" cy="278.70" r="3.45" fill="#EE7629"/>
<circle cx="341.24" cy="277.15" r="3.45" fill="#EE7629"/>
<circle cx="343.32" cy="275.60" r="3.45" fill="#EE7629"/>
<circle cx="345.41" cy="274.05" r="3.45" fill="#EE7629"/>
<circle cx="347.50" cy="272.50" r="3.45" fill="#EE7629"/>
<circle cx="349.59" cy="270.95" r="3.45" fill="#EE7629"/>
<circle cx="351.67" cy="269.40" r="3.45" fill="#EE7629"/>
<circle cx="353.76" cy="267.85" r="3.45" fill="#EE7629"/>
<circle cx="355.85" cy="266.30" r="3.45" fill="#EE7629"/>
<circle cx="357.94" cy="264.75" r="3.45" fill="#EE7629"/>
<circle cx="360.02" cy="263.20" r="3.45" fill="#EE7629"/>
<circle cx="362.11" cy="261.65" r="3.45" fill="#EE7629"/>
<circle cx="364.20" cy="260.10" r="3.45" fill="#EE7629"/>
<circle cx="366.29" cy="258.55" r="3.45" fill="#EE7629"/>
<circle cx="368.37" cy="257.00" r="3.45" fill="#EE7629"/>
<circle cx="370.46" cy="255.45" r="3.45" fill="#EE7629"/>
<circle cx="372.55" cy="253.90" r="3.45" fill="#EE7629"/>
<circle cx="374.64" cy="252.35" r="3.45" fill="#EE7629"/>
<circle cx="376.72" cy="250.80" r="3.45" fill="#EE7629"/>
<circle cx="378.81" cy="249.25" r="3.45" fill="#EE7629"/>
<circle cx="380.90" cy="247.70" r="3.45" fill="#EE7629"/>
<circle cx="382.99" cy="246.15" r="3.45" fill="#EE7629"/>
<circle cx="385.07" cy="244.60" r="3.45" fill="#EE7629"/>
<circle cx="387.16" cy="243.05" r="3.45" fill="#EE7629"/>
<line x1="297.50" y1="310.70" x2="452.70" y2="197.50" stroke="#416ECA" stroke-width="1.6" stroke-dasharray="1.6 1.6"/>
<line x1="297.50" y1="310.70" x2="387.50" y2="243.50" stroke="#416ECA" stroke-width="1.3" stroke-dasharray="1.6 1.6"/>
<text x="374" y="201.5" font-size="10.4" text-anchor="start" >y = 0.8458x</text>
<text x="374" y="212.8" font-size="10.4" text-anchor="start" >R² = 0.9990</text>
<text x="337.3" y="295" font-size="10.4" text-anchor="start" >y = 0.8625x</text>
<text x="337.3" y="305.8" font-size="10.4" text-anchor="start" >R² = 0.9999</text>
<circle cx="435.80" cy="285.00" r="3.4" fill="#416ECA"/>
<text x="440.6" y="288.8" font-size="10.2" text-anchor="start" >Spring</text>
<circle cx="435.80" cy="296.60" r="3.4" fill="#EE7629"/>
<text x="440.6" y="300.40000000000003" font-size="10.2" text-anchor="start" >Autumn</text>
<line x1="44.50" y1="368.80" x2="44.50" y2="509.50" stroke="#1a1a1a" stroke-width="1.3" />
<line x1="43.90" y1="508.90" x2="246.80" y2="508.90" stroke="#1a1a1a" stroke-width="1.3" />
<line x1="41.50" y1="508.90" x2="44.50" y2="508.90" stroke="#1a1a1a" stroke-width="1.3" />
<text x="35.2" y="511.9" font-size="10.6" text-anchor="end" >0</text>
<line x1="41.50" y1="491.40" x2="44.50" y2="491.40" stroke="#1a1a1a" stroke-width="1.3" />
<text x="35.2" y="494.4" font-size="10.6" text-anchor="end" >20</text>
<line x1="41.50" y1="473.90" x2="44.50" y2="473.90" stroke="#1a1a1a" stroke-width="1.3" />
<text x="35.2" y="476.9" font-size="10.6" text-anchor="end" >40</text>
<line x1="41.50" y1="456.40" x2="44.50" y2="456.40" stroke="#1a1a1a" stroke-width="1.3" />
<text x="35.2" y="459.4" font-size="10.6" text-anchor="end" >60</text>
<line x1="41.50" y1="438.90" x2="44.50" y2="438.90" stroke="#1a1a1a" stroke-width="1.3" />
<text x="35.2" y="441.9" font-size="10.6" text-anchor="end" >80</text>
<line x1="41.50" y1="421.40" x2="44.50" y2="421.40" stroke="#1a1a1a" stroke-width="1.3" />
<text x="35.2" y="424.4" font-size="10.6" text-anchor="end" >100</text>
<line x1="41.50" y1="403.90" x2="44.50" y2="403.90" stroke="#1a1a1a" stroke-width="1.3" />
<text x="35.2" y="406.9" font-size="10.6" text-anchor="end" >120</text>
<line x1="41.50" y1="386.40" x2="44.50" y2="386.40" stroke="#1a1a1a" stroke-width="1.3" />
<text x="35.2" y="389.4" font-size="10.6" text-anchor="end" >140</text>
<line x1="41.50" y1="368.90" x2="44.50" y2="368.90" stroke="#1a1a1a" stroke-width="1.3" />
<text x="35.2" y="371.9" font-size="10.6" text-anchor="end" >160</text>
<line x1="44.50" y1="508.90" x2="44.50" y2="505.90" stroke="#1a1a1a" stroke-width="1.3" />
<text x="44.5" y="525" font-size="10.6" text-anchor="middle" >0</text>
<line x1="84.90" y1="508.90" x2="84.90" y2="505.90" stroke="#1a1a1a" stroke-width="1.3" />
<text x="84.9" y="525" font-size="10.6" text-anchor="middle" >50</text>
<line x1="125.30" y1="508.90" x2="125.30" y2="505.90" stroke="#1a1a1a" stroke-width="1.3" />
<text x="125.3" y="525" font-size="10.6" text-anchor="middle" >100</text>
<line x1="165.70" y1="508.90" x2="165.70" y2="505.90" stroke="#1a1a1a" stroke-width="1.3" />
<text x="165.7" y="525" font-size="10.6" text-anchor="middle" >150</text>
<line x1="206.10" y1="508.90" x2="206.10" y2="505.90" stroke="#1a1a1a" stroke-width="1.3" />
<text x="206.1" y="525" font-size="10.6" text-anchor="middle" >200</text>
<line x1="246.50" y1="508.90" x2="246.50" y2="505.90" stroke="#1a1a1a" stroke-width="1.3" />
<text x="246.5" y="525" font-size="10.6" text-anchor="middle" >250</text>
<text x="15.5" y="438.7" font-size="12.2" text-anchor="middle" transform="rotate(-90 15.5 438.7)" >∑Epan-in (mm)</text>
<text x="147.3" y="541" font-size="11.3" text-anchor="middle" >∑Epan-out (mm)</text>
<text x="52.8" y="384.8" font-size="11.5" text-anchor="start" >e</text>
<circle cx="46.00" cy="507.50" r="3.35" fill="#416ECA"/>
<circle cx="57.90" cy="499.30" r="3.35" fill="#416ECA"/>
<circle cx="70.00" cy="491.00" r="3.35" fill="#416ECA"/>
<circle cx="81.00" cy="483.00" r="3.35" fill="#416ECA"/>
<circle cx="92.50" cy="475.00" r="3.35" fill="#416ECA"/>
<circle cx="103.00" cy="467.00" r="3.35" fill="#416ECA"/>
<circle cx="114.00" cy="459.50" r="3.35" fill="#416ECA"/>
<circle cx="124.40" cy="452.00" r="3.35" fill="#416ECA"/>
<circle cx="133.50" cy="445.90" r="3.35" fill="#416ECA"/>
<circle cx="140.60" cy="442.30" r="3.35" fill="#416ECA"/>
<circle cx="148.90" cy="437.60" r="3.35" fill="#416ECA"/>
<circle cx="157.20" cy="432.90" r="3.35" fill="#416ECA"/>
<circle cx="165.00" cy="428.20" r="3.35" fill="#416ECA"/>
<circle cx="170.60" cy="424.10" r="3.35" fill="#416ECA"/>
<circle cx="178.40" cy="420.40" r="3.35" fill="#416ECA"/>
<circle cx="183.90" cy="417.50" r="3.35" fill="#416ECA"/>
<circle cx="192.60" cy="412.30" r="3.35" fill="#416ECA"/>
<circle cx="200.90" cy="406.90" r="3.35" fill="#416ECA"/>
<circle cx="209.10" cy="401.50" r="3.35" fill="#416ECA"/>
<circle cx="217.40" cy="397.40" r="3.35" fill="#416ECA"/>
<circle cx="223.30" cy="393.90" r="3.35" fill="#416ECA"/>
<circle cx="228.00" cy="391.10" r="3.35" fill="#416ECA"/>
<circle cx="229.20" cy="388.00" r="3.35" fill="#416ECA"/>
<circle cx="45.10" cy="505.70" r="3.35" fill="#EE7629"/>
<circle cx="47.19" cy="504.53" r="3.35" fill="#EE7629"/>
<circle cx="49.29" cy="503.35" r="3.35" fill="#EE7629"/>
<circle cx="51.38" cy="502.18" r="3.35" fill="#EE7629"/>
<circle cx="53.47" cy="501.00" r="3.35" fill="#EE7629"/>
<circle cx="55.57" cy="499.83" r="3.35" fill="#EE7629"/>
<circle cx="57.66" cy="498.65" r="3.35" fill="#EE7629"/>
<circle cx="59.75" cy="497.48" r="3.35" fill="#EE7629"/>
<circle cx="61.85" cy="496.31" r="3.35" fill="#EE7629"/>
<circle cx="63.94" cy="495.13" r="3.35" fill="#EE7629"/>
<circle cx="66.00" cy="493.90" r="3.35" fill="#EE7629"/>
<circle cx="67.92" cy="492.47" r="3.35" fill="#EE7629"/>
<circle cx="69.84" cy="491.03" r="3.35" fill="#EE7629"/>
<circle cx="71.77" cy="489.60" r="3.35" fill="#EE7629"/>
<circle cx="73.69" cy="488.16" r="3.35" fill="#EE7629"/>
<circle cx="75.61" cy="486.73" r="3.35" fill="#EE7629"/>
<circle cx="77.54" cy="485.29" r="3.35" fill="#EE7629"/>
<circle cx="79.46" cy="483.86" r="3.35" fill="#EE7629"/>
<circle cx="81.38" cy="482.42" r="3.35" fill="#EE7629"/>
<circle cx="83.31" cy="480.98" r="3.35" fill="#EE7629"/>
<circle cx="85.23" cy="479.55" r="3.35" fill="#EE7629"/>
<circle cx="87.13" cy="478.09" r="3.35" fill="#EE7629"/>
<circle cx="89.02" cy="476.60" r="3.35" fill="#EE7629"/>
<circle cx="90.90" cy="475.12" r="3.35" fill="#EE7629"/>
<circle cx="92.79" cy="473.63" r="3.35" fill="#EE7629"/>
<circle cx="94.67" cy="472.15" r="3.35" fill="#EE7629"/>
<circle cx="96.56" cy="470.66" r="3.35" fill="#EE7629"/>
<circle cx="98.44" cy="469.18" r="3.35" fill="#EE7629"/>
<circle cx="100.33" cy="467.69" r="3.35" fill="#EE7629"/>
<circle cx="102.22" cy="466.21" r="3.35" fill="#EE7629"/>
<circle cx="104.11" cy="464.74" r="3.35" fill="#EE7629"/>
<circle cx="106.20" cy="463.56" r="3.35" fill="#EE7629"/>
<circle cx="108.29" cy="462.38" r="3.35" fill="#EE7629"/>
<circle cx="110.38" cy="461.20" r="3.35" fill="#EE7629"/>
<circle cx="112.47" cy="460.02" r="3.35" fill="#EE7629"/>
<circle cx="114.57" cy="458.84" r="3.35" fill="#EE7629"/>
<circle cx="116.66" cy="457.67" r="3.35" fill="#EE7629"/>
<circle cx="118.75" cy="456.49" r="3.35" fill="#EE7629"/>
<circle cx="120.84" cy="455.31" r="3.35" fill="#EE7629"/>
<circle cx="122.93" cy="454.13" r="3.35" fill="#EE7629"/>
<circle cx="125.05" cy="453.02" r="3.35" fill="#EE7629"/>
<circle cx="127.26" cy="452.08" r="3.35" fill="#EE7629"/>
<circle cx="129.47" cy="451.13" r="3.35" fill="#EE7629"/>
<circle cx="131.67" cy="450.19" r="3.35" fill="#EE7629"/>
<circle cx="133.88" cy="449.25" r="3.35" fill="#EE7629"/>
<circle cx="136.09" cy="448.30" r="3.35" fill="#EE7629"/>
<circle cx="138.29" cy="447.36" r="3.35" fill="#EE7629"/>
<circle cx="140.50" cy="446.41" r="3.35" fill="#EE7629"/>
<circle cx="142.72" cy="445.51" r="3.35" fill="#EE7629"/>
<circle cx="145.03" cy="444.85" r="3.35" fill="#EE7629"/>
<circle cx="147.34" cy="444.19" r="3.35" fill="#EE7629"/>
<circle cx="149.64" cy="443.54" r="3.35" fill="#EE7629"/>
<circle cx="151.95" cy="442.88" r="3.35" fill="#EE7629"/>
<circle cx="154.26" cy="442.22" r="3.35" fill="#EE7629"/>
<circle cx="156.57" cy="441.56" r="3.35" fill="#EE7629"/>
<circle cx="158.88" cy="440.91" r="3.35" fill="#EE7629"/>
<circle cx="160.30" cy="440.50" r="3.35" fill="#EE7629"/>
<line x1="44.50" y1="508.90" x2="229.20" y2="388.50" stroke="#416ECA" stroke-width="1.6" stroke-dasharray="1.6 1.6"/>
<line x1="44.50" y1="508.90" x2="159.80" y2="433.30" stroke="#416ECA" stroke-width="1.3" stroke-dasharray="1.6 1.6"/>
<text x="154.8" y="386.8" font-size="10.4" text-anchor="start" >y = 0.6072x</text>
<text x="154.8" y="397.6" font-size="10.4" text-anchor="start" >R² = 0.9994</text>
<text x="129.5" y="481.2" font-size="10.4" text-anchor="start" >y = 0.6088x</text>
<text x="129.5" y="493.2" font-size="10.4" text-anchor="start" >R² = 0.9947</text>
<circle cx="196.60" cy="485.60" r="3.4" fill="#416ECA"/>
<text x="201.4" y="489.40000000000003" font-size="10.2" text-anchor="start" >Spring</text>
<circle cx="196.60" cy="499.20" r="3.4" fill="#EE7629"/>
<text x="201.4" y="503.0" font-size="10.2" text-anchor="start" >Autumn</text>
<line x1="295.00" y1="371.00" x2="295.00" y2="510.10" stroke="#1a1a1a" stroke-width="1.3" />
<line x1="294.40" y1="509.50" x2="491.30" y2="509.50" stroke="#1a1a1a" stroke-width="1.3" />
<line x1="292.00" y1="509.50" x2="295.00" y2="509.50" stroke="#1a1a1a" stroke-width="1.3" />
<text x="283.5" y="512.5" font-size="10.6" text-anchor="end" >0</text>
<line x1="292.00" y1="481.90" x2="295.00" y2="481.90" stroke="#1a1a1a" stroke-width="1.3" />
<text x="283.5" y="484.9" font-size="10.6" text-anchor="end" >50</text>
<line x1="292.00" y1="454.30" x2="295.00" y2="454.30" stroke="#1a1a1a" stroke-width="1.3" />
<text x="283.5" y="457.3" font-size="10.6" text-anchor="end" >100</text>
<line x1="292.00" y1="426.70" x2="295.00" y2="426.70" stroke="#1a1a1a" stroke-width="1.3" />
<text x="283.5" y="429.7" font-size="10.6" text-anchor="end" >150</text>
<line x1="292.00" y1="399.10" x2="295.00" y2="399.10" stroke="#1a1a1a" stroke-width="1.3" />
<text x="283.5" y="402.1" font-size="10.6" text-anchor="end" >200</text>
<line x1="292.00" y1="371.50" x2="295.00" y2="371.50" stroke="#1a1a1a" stroke-width="1.3" />
<text x="283.5" y="374.5" font-size="10.6" text-anchor="end" >250</text>
<line x1="295.00" y1="509.50" x2="295.00" y2="506.50" stroke="#1a1a1a" stroke-width="1.3" />
<text x="295.0" y="525" font-size="10.6" text-anchor="middle" >0</text>
<line x1="334.40" y1="509.50" x2="334.40" y2="506.50" stroke="#1a1a1a" stroke-width="1.3" />
<text x="334.4" y="525" font-size="10.6" text-anchor="middle" >50</text>
<line x1="373.80" y1="509.50" x2="373.80" y2="506.50" stroke="#1a1a1a" stroke-width="1.3" />
<text x="373.8" y="525" font-size="10.6" text-anchor="middle" >100</text>
<line x1="413.20" y1="509.50" x2="413.20" y2="506.50" stroke="#1a1a1a" stroke-width="1.3" />
<text x="413.2" y="525" font-size="10.6" text-anchor="middle" >150</text>
<line x1="452.60" y1="509.50" x2="452.60" y2="506.50" stroke="#1a1a1a" stroke-width="1.3" />
<text x="452.6" y="525" font-size="10.6" text-anchor="middle" >200</text>
<line x1="492.00" y1="509.50" x2="492.00" y2="506.50" stroke="#1a1a1a" stroke-width="1.3" />
<text x="492.0" y="525" font-size="10.6" text-anchor="middle" >250</text>
<text x="262" y="445" font-size="12.2" text-anchor="middle" transform="rotate(-90 262 445)" >∑ETo (mm)</text>
<text x="406.8" y="535.7" font-size="11.8" text-anchor="middle" >∑Epan(mm)</text>
<text x="308.6" y="384.8" font-size="11.5" text-anchor="start" >f</text>
<circle cx="295.00" cy="506.50" r="3.3" fill="#416ECA"/>
<circle cx="299.11" cy="503.15" r="3.3" fill="#416ECA"/>
<circle cx="303.22" cy="499.81" r="3.3" fill="#416ECA"/>
<circle cx="307.33" cy="496.46" r="3.3" fill="#416ECA"/>
<circle cx="311.44" cy="493.11" r="3.3" fill="#416ECA"/>
<circle cx="315.55" cy="489.77" r="3.3" fill="#416ECA"/>
<circle cx="319.66" cy="486.42" r="3.3" fill="#416ECA"/>
<circle cx="323.77" cy="483.07" r="3.3" fill="#416ECA"/>
<circle cx="327.88" cy="479.73" r="3.3" fill="#416ECA"/>
<circle cx="332.00" cy="476.39" r="3.3" fill="#416ECA"/>
<circle cx="336.12" cy="473.06" r="3.3" fill="#416ECA"/>
<circle cx="340.24" cy="469.73" r="3.3" fill="#416ECA"/>
<circle cx="344.37" cy="466.41" r="3.3" fill="#416ECA"/>
<circle cx="348.49" cy="463.08" r="3.3" fill="#416ECA"/>
<circle cx="352.62" cy="459.75" r="3.3" fill="#416ECA"/>
<circle cx="356.74" cy="456.42" r="3.3" fill="#416ECA"/>
<circle cx="360.87" cy="453.09" r="3.3" fill="#416ECA"/>
<circle cx="364.99" cy="449.76" r="3.3" fill="#416ECA"/>
<circle cx="369.19" cy="446.53" r="3.3" fill="#416ECA"/>
<circle cx="373.52" cy="443.48" r="3.3" fill="#416ECA"/>
<circle cx="377.86" cy="440.43" r="3.3" fill="#416ECA"/>
<circle cx="382.20" cy="437.39" r="3.3" fill="#416ECA"/>
<circle cx="386.53" cy="434.34" r="3.3" fill="#416ECA"/>
<circle cx="390.87" cy="431.29" r="3.3" fill="#416ECA"/>
<circle cx="395.21" cy="428.25" r="3.3" fill="#416ECA"/>
<circle cx="399.54" cy="425.20" r="3.3" fill="#416ECA"/>
<circle cx="403.88" cy="422.16" r="3.3" fill="#416ECA"/>
<circle cx="295.00" cy="509.00" r="3.3" fill="#EE7629"/>
<circle cx="299.70" cy="506.14" r="3.3" fill="#EE7629"/>
<circle cx="304.40" cy="503.29" r="3.3" fill="#EE7629"/>
<circle cx="309.10" cy="500.43" r="3.3" fill="#EE7629"/>
<circle cx="313.80" cy="497.57" r="3.3" fill="#EE7629"/>
<circle cx="318.50" cy="494.72" r="3.3" fill="#EE7629"/>
<circle cx="323.20" cy="491.86" r="3.3" fill="#EE7629"/>
<circle cx="327.90" cy="489.01" r="3.3" fill="#EE7629"/>
<circle cx="332.60" cy="486.15" r="3.3" fill="#EE7629"/>
<circle cx="337.30" cy="483.29" r="3.3" fill="#EE7629"/>
<circle cx="342.00" cy="480.44" r="3.3" fill="#EE7629"/>
<circle cx="346.70" cy="477.58" r="3.3" fill="#EE7629"/>
<circle cx="351.40" cy="474.72" r="3.3" fill="#EE7629"/>
<circle cx="356.10" cy="471.87" r="3.3" fill="#EE7629"/>
<circle cx="360.80" cy="469.01" r="3.3" fill="#EE7629"/>
<circle cx="365.50" cy="466.16" r="3.3" fill="#EE7629"/>
<circle cx="370.20" cy="463.30" r="3.3" fill="#EE7629"/>
<circle cx="374.90" cy="460.44" r="3.3" fill="#EE7629"/>
<circle cx="379.60" cy="457.59" r="3.3" fill="#EE7629"/>
<circle cx="384.30" cy="454.73" r="3.3" fill="#EE7629"/>
<circle cx="389.00" cy="451.87" r="3.3" fill="#EE7629"/>
<circle cx="391.10" cy="450.60" r="3.3" fill="#EE7629"/>
<circle cx="396.50" cy="448.00" r="3.3" fill="#EE7629"/>
<circle cx="404.10" cy="443.10" r="3.3" fill="#EE7629"/>
<circle cx="411.70" cy="440.20" r="3.3" fill="#EE7629"/>
<circle cx="417.10" cy="437.20" r="3.3" fill="#EE7629"/>
<circle cx="424.20" cy="433.30" r="3.3" fill="#EE7629"/>
<circle cx="430.10" cy="430.70" r="3.3" fill="#EE7629"/>
<circle cx="438.70" cy="425.70" r="3.3" fill="#EE7629"/>
<circle cx="446.70" cy="422.00" r="3.3" fill="#EE7629"/>
<circle cx="455.00" cy="418.20" r="3.3" fill="#EE7629"/>
<circle cx="462.50" cy="414.50" r="3.3" fill="#EE7629"/>
<circle cx="466.90" cy="411.70" r="3.3" fill="#EE7629"/>
<circle cx="473.40" cy="408.40" r="3.3" fill="#EE7629"/>
<circle cx="474.50" cy="404.70" r="3.3" fill="#EE7629"/>
<circle cx="480.50" cy="402.30" r="3.3" fill="#EE7629"/>
<circle cx="306.00" cy="505.00" r="3.3" fill="#A5A5A5"/>
<circle cx="308.28" cy="503.97" r="3.3" fill="#A5A5A5"/>
<circle cx="310.55" cy="502.94" r="3.3" fill="#A5A5A5"/>
<circle cx="312.71" cy="501.69" r="3.3" fill="#A5A5A5"/>
<circle cx="314.81" cy="500.33" r="3.3" fill="#A5A5A5"/>
<circle cx="316.91" cy="498.98" r="3.3" fill="#A5A5A5"/>
<circle cx="319.01" cy="497.62" r="3.3" fill="#A5A5A5"/>
<circle cx="321.12" cy="496.27" r="3.3" fill="#A5A5A5"/>
<circle cx="323.22" cy="494.91" r="3.3" fill="#A5A5A5"/>
<circle cx="325.32" cy="493.55" r="3.3" fill="#A5A5A5"/>
<circle cx="327.33" cy="492.07" r="3.3" fill="#A5A5A5"/>
<circle cx="329.34" cy="490.58" r="3.3" fill="#A5A5A5"/>
<circle cx="331.35" cy="489.10" r="3.3" fill="#A5A5A5"/>
<circle cx="333.36" cy="487.61" r="3.3" fill="#A5A5A5"/>
<circle cx="335.36" cy="486.12" r="3.3" fill="#A5A5A5"/>
<circle cx="337.37" cy="484.63" r="3.3" fill="#A5A5A5"/>
<circle cx="339.38" cy="483.14" r="3.3" fill="#A5A5A5"/>
<circle cx="341.39" cy="481.65" r="3.3" fill="#A5A5A5"/>
<circle cx="343.40" cy="480.17" r="3.3" fill="#A5A5A5"/>
<circle cx="345.47" cy="478.77" r="3.3" fill="#A5A5A5"/>
<circle cx="347.60" cy="477.45" r="3.3" fill="#A5A5A5"/>
<circle cx="349.72" cy="476.14" r="3.3" fill="#A5A5A5"/>
<circle cx="351.85" cy="474.82" r="3.3" fill="#A5A5A5"/>
<circle cx="353.97" cy="473.50" r="3.3" fill="#A5A5A5"/>
<circle cx="356.09" cy="472.18" r="3.3" fill="#A5A5A5"/>
<circle cx="358.22" cy="470.86" r="3.3" fill="#A5A5A5"/>
<circle cx="360.34" cy="469.55" r="3.3" fill="#A5A5A5"/>
<circle cx="362.63" cy="468.56" r="3.3" fill="#A5A5A5"/>
<circle cx="364.97" cy="467.69" r="3.3" fill="#A5A5A5"/>
<circle cx="367.32" cy="466.83" r="3.3" fill="#A5A5A5"/>
<circle cx="369.66" cy="465.96" r="3.3" fill="#A5A5A5"/>
<circle cx="371.93" cy="464.92" r="3.3" fill="#A5A5A5"/>
<circle cx="374.11" cy="463.70" r="3.3" fill="#A5A5A5"/>
<circle cx="376.29" cy="462.47" r="3.3" fill="#A5A5A5"/>
<circle cx="378.47" cy="461.25" r="3.3" fill="#A5A5A5"/>
<circle cx="380.72" cy="460.18" r="3.3" fill="#A5A5A5"/>
<circle cx="383.08" cy="459.35" r="3.3" fill="#A5A5A5"/>
<circle cx="385.44" cy="458.53" r="3.3" fill="#A5A5A5"/>
<circle cx="387.80" cy="457.70" r="3.3" fill="#A5A5A5"/>
<circle cx="390.15" cy="456.86" r="3.3" fill="#A5A5A5"/>
<circle cx="392.49" cy="455.97" r="3.3" fill="#A5A5A5"/>
<circle cx="394.82" cy="455.07" r="3.3" fill="#A5A5A5"/>
<circle cx="397.15" cy="454.17" r="3.3" fill="#A5A5A5"/>
<circle cx="399.49" cy="453.28" r="3.3" fill="#A5A5A5"/>
<circle cx="401.82" cy="452.38" r="3.3" fill="#A5A5A5"/>
<circle cx="404.16" cy="451.48" r="3.3" fill="#A5A5A5"/>
<circle cx="406.49" cy="450.59" r="3.3" fill="#A5A5A5"/>
<circle cx="407.50" cy="450.20" r="3.3" fill="#A5A5A5"/>
<circle cx="308.00" cy="501.50" r="3.3" fill="#A5A5A5"/>
<circle cx="310.54" cy="499.90" r="3.3" fill="#A5A5A5"/>
<circle cx="313.07" cy="498.29" r="3.3" fill="#A5A5A5"/>
<circle cx="315.61" cy="496.69" r="3.3" fill="#A5A5A5"/>
<circle cx="318.14" cy="495.09" r="3.3" fill="#A5A5A5"/>
<circle cx="320.68" cy="493.48" r="3.3" fill="#A5A5A5"/>
<circle cx="323.21" cy="491.88" r="3.3" fill="#A5A5A5"/>
<circle cx="325.74" cy="490.26" r="3.3" fill="#A5A5A5"/>
<circle cx="328.18" cy="488.52" r="3.3" fill="#A5A5A5"/>
<circle cx="330.62" cy="486.77" r="3.3" fill="#A5A5A5"/>
<circle cx="333.06" cy="485.03" r="3.3" fill="#A5A5A5"/>
<circle cx="335.50" cy="483.28" r="3.3" fill="#A5A5A5"/>
<circle cx="337.94" cy="481.54" r="3.3" fill="#A5A5A5"/>
<circle cx="340.38" cy="479.80" r="3.3" fill="#A5A5A5"/>
<circle cx="342.83" cy="478.05" r="3.3" fill="#A5A5A5"/>
<circle cx="345.32" cy="476.40" r="3.3" fill="#A5A5A5"/>
<circle cx="347.91" cy="474.87" r="3.3" fill="#A5A5A5"/>
<circle cx="350.49" cy="473.35" r="3.3" fill="#A5A5A5"/>
<circle cx="353.07" cy="471.82" r="3.3" fill="#A5A5A5"/>
<circle cx="355.66" cy="470.30" r="3.3" fill="#A5A5A5"/>
<circle cx="358.24" cy="468.77" r="3.3" fill="#A5A5A5"/>
<circle cx="360.82" cy="467.25" r="3.3" fill="#A5A5A5"/>
<circle cx="363.54" cy="465.98" r="3.3" fill="#A5A5A5"/>
<circle cx="366.27" cy="464.73" r="3.3" fill="#A5A5A5"/>
<circle cx="368.99" cy="463.47" r="3.3" fill="#A5A5A5"/>
<circle cx="371.72" cy="462.22" r="3.3" fill="#A5A5A5"/>
<circle cx="374.45" cy="460.96" r="3.3" fill="#A5A5A5"/>
<circle cx="377.17" cy="459.71" r="3.3" fill="#A5A5A5"/>
<circle cx="379.90" cy="458.46" r="3.3" fill="#A5A5A5"/>
<circle cx="382.71" cy="457.40" r="3.3" fill="#A5A5A5"/>
<circle cx="385.51" cy="456.35" r="3.3" fill="#A5A5A5"/>
<circle cx="388.32" cy="455.29" r="3.3" fill="#A5A5A5"/>
<circle cx="391.13" cy="454.23" r="3.3" fill="#A5A5A5"/>
<circle cx="393.93" cy="453.17" r="3.3" fill="#A5A5A5"/>
<circle cx="396.74" cy="452.11" r="3.3" fill="#A5A5A5"/>
<circle cx="399.55" cy="451.06" r="3.3" fill="#A5A5A5"/>
<circle cx="402.36" cy="450.00" r="3.3" fill="#A5A5A5"/>
<circle cx="405.00" cy="449.00" r="3.3" fill="#A5A5A5"/>
<circle cx="297.10" cy="509.50" r="3.2" fill="#FFC000"/>
<circle cx="299.01" cy="507.89" r="3.2" fill="#FFC000"/>
<circle cx="300.92" cy="506.28" r="3.2" fill="#FFC000"/>
<circle cx="302.83" cy="504.67" r="3.2" fill="#FFC000"/>
<circle cx="304.75" cy="503.05" r="3.2" fill="#FFC000"/>
<circle cx="306.66" cy="501.44" r="3.2" fill="#FFC000"/>
<circle cx="308.57" cy="499.83" r="3.2" fill="#FFC000"/>
<circle cx="310.48" cy="498.22" r="3.2" fill="#FFC000"/>
<circle cx="312.39" cy="496.61" r="3.2" fill="#FFC000"/>
<circle cx="314.30" cy="495.00" r="3.2" fill="#FFC000"/>
<circle cx="316.21" cy="493.39" r="3.2" fill="#FFC000"/>
<circle cx="318.13" cy="491.77" r="3.2" fill="#FFC000"/>
<circle cx="320.04" cy="490.16" r="3.2" fill="#FFC000"/>
<circle cx="321.95" cy="488.55" r="3.2" fill="#FFC000"/>
<circle cx="323.86" cy="486.94" r="3.2" fill="#FFC000"/>
<circle cx="325.77" cy="485.33" r="3.2" fill="#FFC000"/>
<circle cx="327.68" cy="483.72" r="3.2" fill="#FFC000"/>
<circle cx="329.59" cy="482.11" r="3.2" fill="#FFC000"/>
<circle cx="331.50" cy="480.49" r="3.2" fill="#FFC000"/>
<circle cx="333.42" cy="478.88" r="3.2" fill="#FFC000"/>
<circle cx="335.33" cy="477.27" r="3.2" fill="#FFC000"/>
<circle cx="337.24" cy="475.66" r="3.2" fill="#FFC000"/>
<circle cx="339.15" cy="474.05" r="3.2" fill="#FFC000"/>
<circle cx="341.06" cy="472.44" r="3.2" fill="#FFC000"/>
<circle cx="342.97" cy="470.83" r="3.2" fill="#FFC000"/>
<circle cx="344.88" cy="469.21" r="3.2" fill="#FFC000"/>
<circle cx="346.80" cy="467.60" r="3.2" fill="#FFC000"/>
<circle cx="348.71" cy="465.99" r="3.2" fill="#FFC000"/>
<circle cx="350.62" cy="464.38" r="3.2" fill="#FFC000"/>
<circle cx="352.53" cy="462.77" r="3.2" fill="#FFC000"/>
<circle cx="354.44" cy="461.16" r="3.2" fill="#FFC000"/>
<circle cx="356.35" cy="459.55" r="3.2" fill="#FFC000"/>
<circle cx="357.00" cy="459.00" r="3.2" fill="#FFC000"/>
<line x1="294.50" y1="509.30" x2="405.10" y2="421.30" stroke="#416ECA" stroke-width="1.3" stroke-dasharray="1.6 1.6"/>
<line x1="294.50" y1="509.30" x2="480.50" y2="404.00" stroke="#EE7629" stroke-width="1.3" stroke-dasharray="1.6 1.6"/>
<line x1="294.50" y1="509.30" x2="407.50" y2="447.00" stroke="#A5A5A5" stroke-width="1.3" stroke-dasharray="1.6 1.6"/>
<line x1="294.50" y1="509.30" x2="357.00" y2="457.50" stroke="#416ECA" stroke-width="1.3" stroke-dasharray="1.6 1.6"/>
<text x="367.3" y="409.5" font-size="9.5" text-anchor="start" >y = 1.1356x</text>
<text x="367.3" y="419.8" font-size="9.5" text-anchor="start" >R² = 0.9993</text>
<text x="318.9" y="441.7" font-size="9.5" text-anchor="start" >y = 1.1273x</text>
<text x="318.9" y="451.2" font-size="9.5" text-anchor="start" >R² = 0.9979</text>
<text x="459.7" y="429" font-size="9.5" text-anchor="start" >y = 0.8195x</text>
<text x="459.7" y="438.5" font-size="9.5" text-anchor="start" >R² = 0.9994</text>
<text x="361" y="481.9" font-size="10.2" text-anchor="start" >y = 0.8031x</text>
<text x="361" y="493.1" font-size="10.2" text-anchor="start" >R² = 0.9980</text>
<circle cx="418.50" cy="456.50" r="3.0" fill="#416ECA"/>
<text x="423.1" y="460.3" font-size="9.4" text-anchor="start" >Spring-inside</text>
<circle cx="418.50" cy="469.50" r="3.0" fill="#EE7629"/>
<text x="423.1" y="473.3" font-size="9.4" text-anchor="start" >Spring-outside</text>
<circle cx="418.50" cy="481.30" r="3.0" fill="#A5A5A5"/>
<text x="423.1" y="485.1" font-size="9.4" text-anchor="start" >Autumn-outside</text>
<circle cx="418.50" cy="493.30" r="3.0" fill="#FFC000"/>
<text x="423.1" y="497.1" font-size="9.4" text-anchor="start" >Autumn-inside</text>
</svg></body></html>
